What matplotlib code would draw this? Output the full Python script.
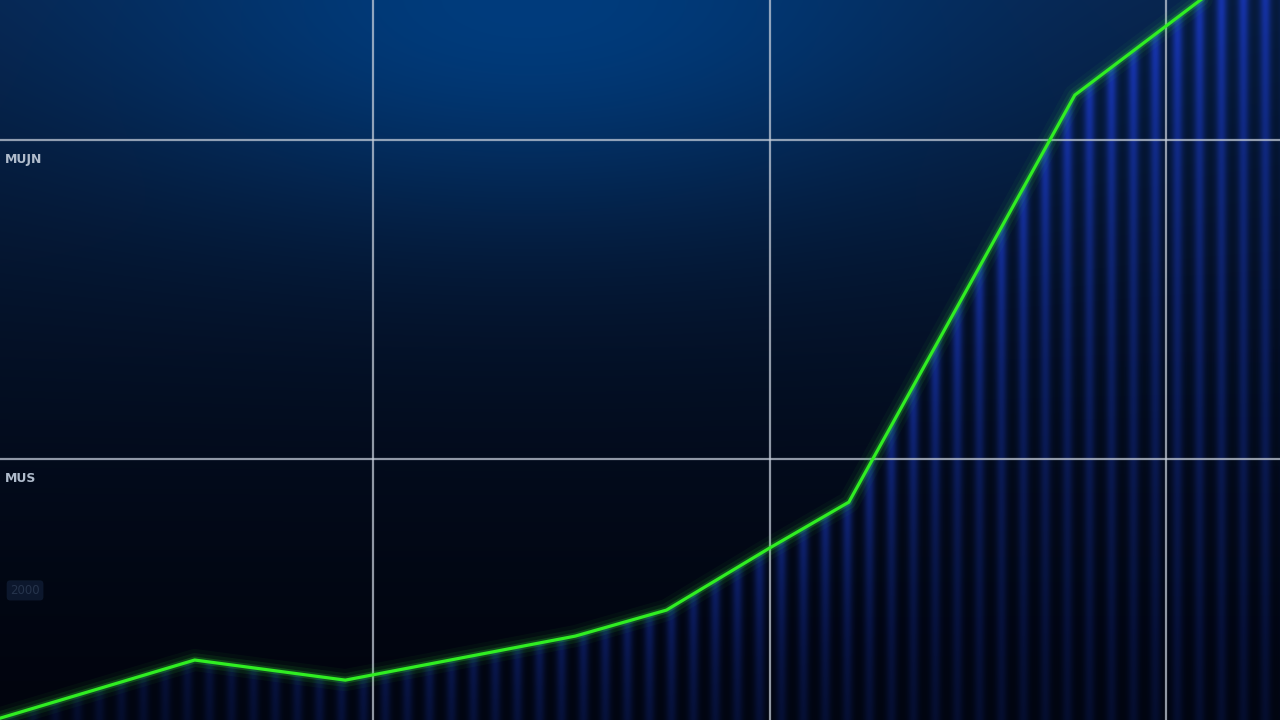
import numpy as np
import matplotlib
matplotlib.use("Agg")
from matplotlib import pyplot as plt
from matplotlib.patches import Polygon

# data
x_vals = [0.06, 0.55, 0.93, 1.51, 1.74, 2.00, 2.20, 2.77, 3.29]
y_vals = [37.6, 74.0, 61.4, 89.0, 105.3, 144.2, 173.0, 428.2, 526.0]
x_grid = [1, 2, 3]
y_grid = [200, 400]
labels = {"MUJN": 400, "MUS": 200}

x0, x1 = 0.059, 3.2875
y0, y1 = 36.4, 487.8

fig = plt.figure(figsize=(12.8, 7.2), dpi=100)
ax = fig.add_axes([0, 0, 1, 1])
ax.set_xlim(x0, x1)
ax.set_ylim(y0, y1)

# background gradient
H, W = 720, 1280
yy, xx = np.mgrid[0:H, 0:W]
t = 1 - yy / H
dark = np.array([1, 4, 14]) / 255
navy = np.array([9, 34, 72]) / 255
hl = np.array([0, 60, 125]) / 255
base = dark + (navy - dark) * (t ** 1.4)[..., None]
glow = np.exp(-((xx - 530) / 450) ** 2 - (yy / 200) ** 2)[..., None]
bg = base + glow * (hl - base)
ax.imshow(bg, extent=(x0, x1, y0, y1), aspect="auto", zorder=0)

# striped texture under the line, brighter close to the line and to the right
col_x = x0 + (np.arange(W) + 0.5) / W * (x1 - x0)
line_px = (y1 - np.interp(col_x, x_vals, y_vals)) / (y1 - y0) * H
below = np.clip(yy - line_px[None, :], 0, None)
phase = (xx % 22) - 11
profile = np.exp(-(phase / 5.5) ** 2)
ramp = 0.3 + 0.7 * np.clip(xx / 950, 0, 1)
inten = np.clip(0.2 + 0.5 * t + 0.4 * np.exp(-below / 110), 0, 1) * ramp
stripe = np.zeros((H, W, 4))
stripe[..., 0] = 24 / 255
stripe[..., 1] = 54 / 255
stripe[..., 2] = 180 / 255
stripe[..., 3] = np.clip(profile * inten * 0.9, 0, 1)

verts = list(zip(x_vals, y_vals)) + [(x_vals[-1], y0), (x_vals[0], y0)]
area = Polygon(verts, closed=True, facecolor="#020818", edgecolor="none",
               alpha=0.3, transform=ax.transData, zorder=1)
ax.add_patch(area)
im = ax.imshow(stripe, extent=(x0, x1, y0, y1), aspect="auto", zorder=1.5)
im.set_clip_path(area)

# grid
for gx in x_grid:
    ax.axvline(gx, color="#c8d0dc", lw=1.6, alpha=0.72, zorder=2)
for gy in y_grid:
    ax.axhline(gy, color="#c8d0dc", lw=1.6, alpha=0.72, zorder=2)

# glowing line
for lw, a in [(16, 0.04), (10, 0.08), (5, 0.18)]:
    ax.plot(x_vals, y_vals, color="#3cff3c", lw=lw, alpha=a,
            solid_joinstyle="round", solid_capstyle="round", zorder=3)
ax.plot(x_vals, y_vals, color="#30ee22", lw=2.3, solid_joinstyle="miter", zorder=4)

# labels
for txt, gy in labels.items():
    ax.text(0.004, gy - 12, txt, transform=ax.get_yaxis_transform(),
            fontsize=9, fontweight="bold", color="#b0bccc", va="center",
            zorder=5)
ax.text(0.008, 0.18, "2000", transform=ax.transAxes, fontsize=8.5,
        color="#26344c", va="center", zorder=5,
        bbox=dict(boxstyle="round,pad=0.3", fc="#0e1a30", ec="none", alpha=0.9))

ax.set_xticks([])
ax.set_yticks([])
for s in ax.spines.values():
    s.set_visible(False)

fig.savefig("out.png", dpi=100)
